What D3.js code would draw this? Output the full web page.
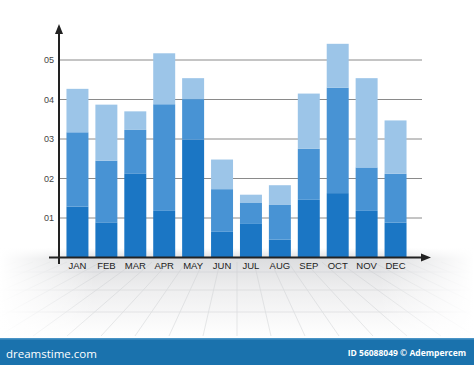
<!DOCTYPE html>
<html>
<head>
<meta charset="utf-8">
<script src="https://cdn.jsdelivr.net/npm/d3@7"></script>
<style>
html,body{margin:0;padding:0;background:#fff;}
svg{display:block;}
</style>
</head>
<body>
<script>
const months = ["JAN","FEB","MAR","APR","MAY","JUN","JUL","AUG","SEP","OCT","NOV","DEC"];
const bottomSeg = [1.29,0.89,2.13,1.18,2.98,0.65,0.85,0.45,1.46,1.63,1.18,0.88];
const middleSeg = [1.88,1.56,1.10,2.70,1.03,1.08,0.53,0.88,1.29,2.67,1.10,1.24];
const topSeg    = [1.10,1.42,0.47,1.29,0.53,0.75,0.21,0.50,1.40,1.11,2.26,1.35];
const yTicks = [1,2,3,4,5];
const yTickLabels = ["01","02","03","04","05"];
const seriesKeys = ["bottom","middle","top"];

const W = 474, H = 365;
const svg = d3.select("body").append("svg").attr("width", W).attr("height", H);
const defs = svg.append("defs");

const fg = defs.append("linearGradient").attr("id","floor").attr("x1",0).attr("y1",0).attr("x2",0).attr("y2",1);
fg.append("stop").attr("offset","0%").attr("stop-color","#e2e3e5").attr("stop-opacity",0);
fg.append("stop").attr("offset","12%").attr("stop-color","#dcdddf").attr("stop-opacity",1);
fg.append("stop").attr("offset","45%").attr("stop-color","#eeeeef");
fg.append("stop").attr("offset","100%").attr("stop-color","#ffffff");
const sideFade = defs.append("linearGradient").attr("id","side").attr("x1",0).attr("y1",0).attr("x2",1).attr("y2",0);
sideFade.append("stop").attr("offset","0%").attr("stop-color","#fff").attr("stop-opacity",1);
sideFade.append("stop").attr("offset","20%").attr("stop-color","#fff").attr("stop-opacity",0);
sideFade.append("stop").attr("offset","80%").attr("stop-color","#fff").attr("stop-opacity",0);
sideFade.append("stop").attr("offset","100%").attr("stop-color","#fff").attr("stop-opacity",1);

const x = d3.scaleBand().domain(months).range([63, 410]).paddingInner(0.24).paddingOuter(0.12);
const y = d3.scaleLinear().domain([0,5]).range([257.5, 60]);

// floor
svg.append("rect").attr("x",0).attr("y",248).attr("width",W).attr("height",90).attr("fill","url(#floor)");
const floorG = svg.append("g").attr("stroke","#c9cbce").attr("stroke-width",0.7).attr("opacity",0.6);
const vx = 237;
d3.range(-14, 15).forEach(i => {
  floorG.append("line").attr("x1", vx + i*17).attr("y1", 262).attr("x2", vx + i*34).attr("y2", 336);
});
[272, 290, 312].forEach(yy => floorG.append("line").attr("x1",0).attr("x2",W).attr("y1",yy).attr("y2",yy));
svg.append("rect").attr("x",0).attr("y",248).attr("width",W).attr("height",90).attr("fill","url(#side)");

// gridlines
svg.append("g").selectAll("line").data(yTicks).join("line")
  .attr("x1", 59).attr("x2", 422)
  .attr("y1", d => y(d)).attr("y2", d => y(d))
  .attr("stroke","#8a8a8a").attr("stroke-width",1);

// stacked bars
const data = months.map((m,i) => ({month:m, bottom:bottomSeg[i], middle:middleSeg[i], top:topSeg[i]}));
const stack = d3.stack().keys(seriesKeys)(data);
const colors = {bottom:"#1b76c4", middle:"#4893d4", top:"#9cc5e8"};
svg.append("g").selectAll("g").data(stack).join("g")
  .attr("fill", s => colors[s.key])
  .selectAll("rect").data(s => s).join("rect")
  .attr("x", d => x(d.data.month))
  .attr("width", x.bandwidth())
  .attr("y", d => y(d[1]))
  .attr("height", d => y(d[0]) - y(d[1]));

// y axis
const yAxis = d3.axisLeft(y).tickValues(yTicks).tickFormat((d,i) => yTickLabels[i]).tickSize(0).tickPadding(5);
const ya = svg.append("g").attr("transform","translate(59,0)").call(yAxis);
ya.select(".domain").remove();
ya.selectAll("text").attr("font-family","Liberation Sans, Arial, sans-serif").attr("font-size",9).attr("fill","#444");

// x axis labels
const xAxis = d3.axisBottom(x).tickSize(0).tickPadding(4);
const xa = svg.append("g").attr("transform","translate(0,258)").call(xAxis);
xa.select(".domain").remove();
xa.selectAll("text").attr("font-family","Liberation Sans, Arial, sans-serif").attr("font-size",9.5).attr("fill","#222");

// axis lines with arrows
svg.append("line").attr("x1",59).attr("x2",59).attr("y1",264).attr("y2",32).attr("stroke","#222").attr("stroke-width",2);
svg.append("path").attr("d","M59,24 L55,34 L63,34 Z").attr("fill","#222");
svg.append("line").attr("x1",49).attr("x2",422).attr("y1",257.5).attr("y2",257.5).attr("stroke","#222").attr("stroke-width",2);
svg.append("path").attr("d","M431,257.5 L421,253.5 L421,261.5 Z").attr("fill","#222");

// footer banner
svg.append("rect").attr("x",0).attr("y",338).attr("width",W).attr("height",27).attr("fill","#1a72ad");
svg.append("rect").attr("x",0).attr("y",338).attr("width",W).attr("height",1.5).attr("fill","#4a94c6");
svg.append("text").attr("x",6).attr("y",358).text("dreamstime.com")
  .attr("font-family","Open Sans, sans-serif").attr("font-size",11.5).attr("fill","#fff");
svg.append("text").attr("x",466).attr("y",356).attr("text-anchor","end").text("ID 56088049 © Adempercem")
  .attr("font-family","Open Sans, sans-serif").attr("font-size",8.5).attr("font-weight","bold").attr("fill","#fff");
</script>
</body>
</html>
